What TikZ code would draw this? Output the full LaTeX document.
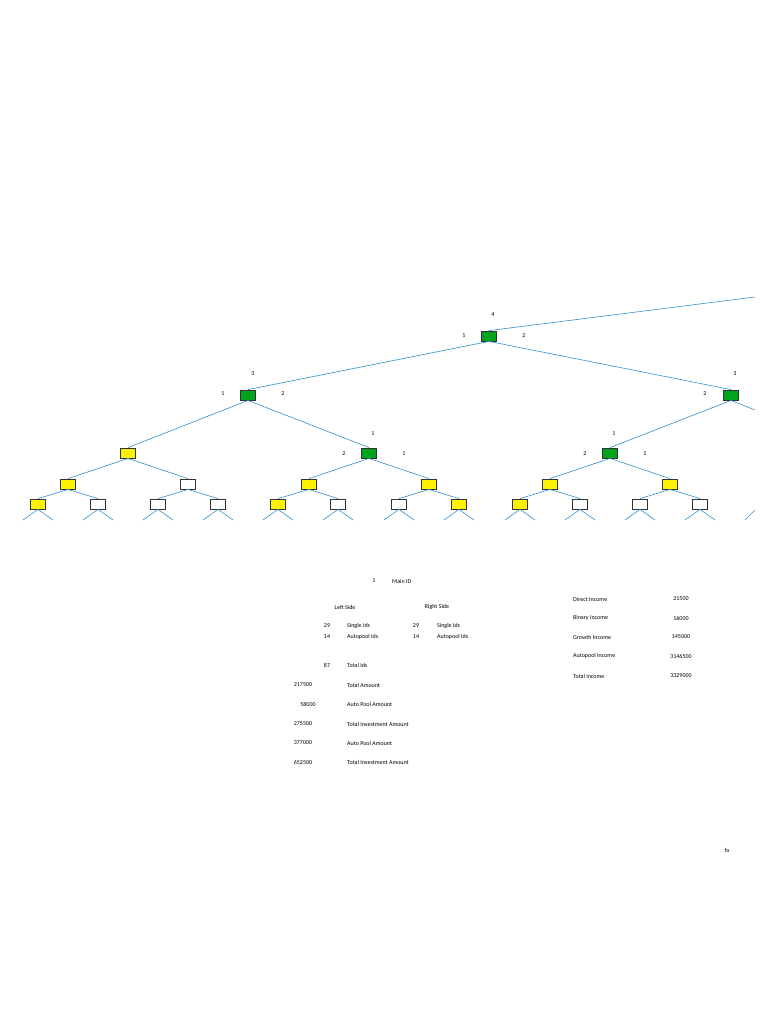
\documentclass[tikz,border=0pt]{standalone}
\usepackage{fontspec}
\setmainfont{Carlito}
\begin{document}
\begin{tikzpicture}[x=1pt,y=-1pt,
  bx/.style={draw=black!80,line width=0.8pt,minimum width=15pt,minimum height=10pt,inner sep=0pt},
  gn/.style={bx,fill=green!60!black!90!cyan},
  yl/.style={bx,fill=yellow},
  wh/.style={bx,fill=white},
  ln/.style={draw=blue!40!cyan!60!gray,line width=0.6pt},
  lb/.style={font=\fontsize{6}{7}\selectfont,inner sep=0pt},
  tx/.style={lb,anchor=west}]
\useasboundingbox (0,0) rectangle (768,1024);
% nodes
\node[gn] (r) at (489,336) {};
\node[gn] (a) at (248,395) {};
\node[gn] (b) at (731,395) {};
\node[yl] (a1) at (128,453) {};
\node[gn] (a2) at (369,453) {};
\node[gn] (b1) at (610,453) {};
\node[yl] (c1) at (68,484) {};
\node[wh] (c2) at (188,484) {};
\node[yl] (c3) at (309,484) {};
\node[yl] (c4) at (429,484) {};
\node[yl] (c5) at (550,484) {};
\node[yl] (c6) at (670,484) {};
\foreach \x/\s [count=\i] in {38/yl,98/wh,158/wh,218/wh,278/yl,338/wh,399/wh,459/yl,520/yl,580/wh,640/wh,700/wh}{
  \node[\s] (d\i) at (\x,504) {};
  \coordinate (dl\i) at (\x-15,520);
  \coordinate (dr\i) at (\x+15,520);
}
\coordinate (top) at (755,297);
\coordinate (bend) at (755,410);
\coordinate (e1) at (745,520);
\coordinate (e2) at (755,510);
% connectors
\draw[ln] (r.north) -- (top);
\draw[ln] (r.south) -- (a.north);
\draw[ln] (r.south) -- (b.north);
\draw[ln] (b.south) -- (bend);
\draw[ln] (a.south) -- (a1.north);
\draw[ln] (a.south) -- (a2.north);
\draw[ln] (b.south) -- (b1.north);
\draw[ln] (a1.south) -- (c1.north);
\draw[ln] (a1.south) -- (c2.north);
\draw[ln] (a2.south) -- (c3.north);
\draw[ln] (a2.south) -- (c4.north);
\draw[ln] (b1.south) -- (c5.north);
\draw[ln] (b1.south) -- (c6.north);
\draw[ln] (c1.south) -- (d1.north); \draw[ln] (c1.south) -- (d2.north);
\draw[ln] (c2.south) -- (d3.north); \draw[ln] (c2.south) -- (d4.north);
\draw[ln] (c3.south) -- (d5.north); \draw[ln] (c3.south) -- (d6.north);
\draw[ln] (c4.south) -- (d7.north); \draw[ln] (c4.south) -- (d8.north);
\draw[ln] (c5.south) -- (d9.north); \draw[ln] (c5.south) -- (d10.north);
\draw[ln] (c6.south) -- (d11.north); \draw[ln] (c6.south) -- (d12.north);
\foreach \i in {1,...,12}{
  \draw[ln] (d\i.south) -- (dl\i);
  \draw[ln] (d\i.south) -- (dr\i);
}
\draw[ln] (e1) -- (e2);
% tree labels
\node[lb] (t1) at (493,315) {4};
\node[lb] (t2) at (464,336) {1};
\node[lb] (t3) at (524,336) {2};
\node[lb] (t4) at (253,374) {3};
\node[lb] (t5) at (223,394) {1};
\node[lb] (t6) at (283,394) {2};
\node[lb] (t7) at (735,374) {3};
\node[lb] (t8) at (705,394) {2};
\node[lb] (t9) at (373,434) {1};
\node[lb] (t10) at (344,454) {2};
\node[lb] (t11) at (404,454) {1};
\node[lb] (t12) at (614,434) {1};
\node[lb] (t13) at (585,454) {2};
\node[lb] (t14) at (645,454) {1};
% summary
\node[lb] (s1) at (374,581) {1};
\node[tx] (s2) at (392,581) {Main ID};
\node[lb] (s3) at (345,607) {Left Side};
\node[lb] (s4) at (437,607) {Right Side};
\node[lb] (s5) at (327,626) {29};
\node[tx] (s6) at (347,626) {Single Ids};
\node[lb] (s7) at (416,626) {29};
\node[tx] (s8) at (437,626) {Single Ids};
\node[lb] (s9) at (327,637) {14};
\node[tx] (s10) at (347,637) {Autopool Ids};
\node[lb] (s11) at (416,637) {14};
\node[tx] (s12) at (437,637) {Autopool Ids};
\node[lb] (s13) at (327,665) {87};
\node[tx] (s14) at (347,665) {Total Ids};
\node[lb] (s15) at (303,685) {217500};
\node[tx] (s16) at (347,685) {Total Amount};
\node[lb] (s17) at (308,704) {58000};
\node[tx] (s18) at (347,704) {Auto Pool Amount};
\node[lb] (s19) at (303,724) {275500};
\node[tx] (s20) at (347,724) {Total Investment Amount};
\node[lb] (s21) at (303,743) {377000};
\node[tx] (s22) at (347,743) {Auto Pool Amount};
\node[lb] (s23) at (303,762) {652500};
\node[tx] (s24) at (347,762) {Total Investment Amount};
\node[tx] (i1) at (573,599) {Direct Income};
\node[lb] (v1) at (681,599) {21500};
\node[tx] (i2) at (573,618) {Binary Income};
\node[lb] (v2) at (681,618) {16000};
\node[tx] (i3) at (573,637) {Growth Income};
\node[lb] (v3) at (681,637) {145000};
\node[tx] (i4) at (573,656) {Autopool Income};
\node[lb] (v4) at (681,656) {3146500};
\node[tx] (i5) at (573,676) {Total Income};
\node[lb] (v5) at (681,676) {3329000};
\node[lb] (fa) at (727,850) {fa};
\end{tikzpicture}
\end{document}
